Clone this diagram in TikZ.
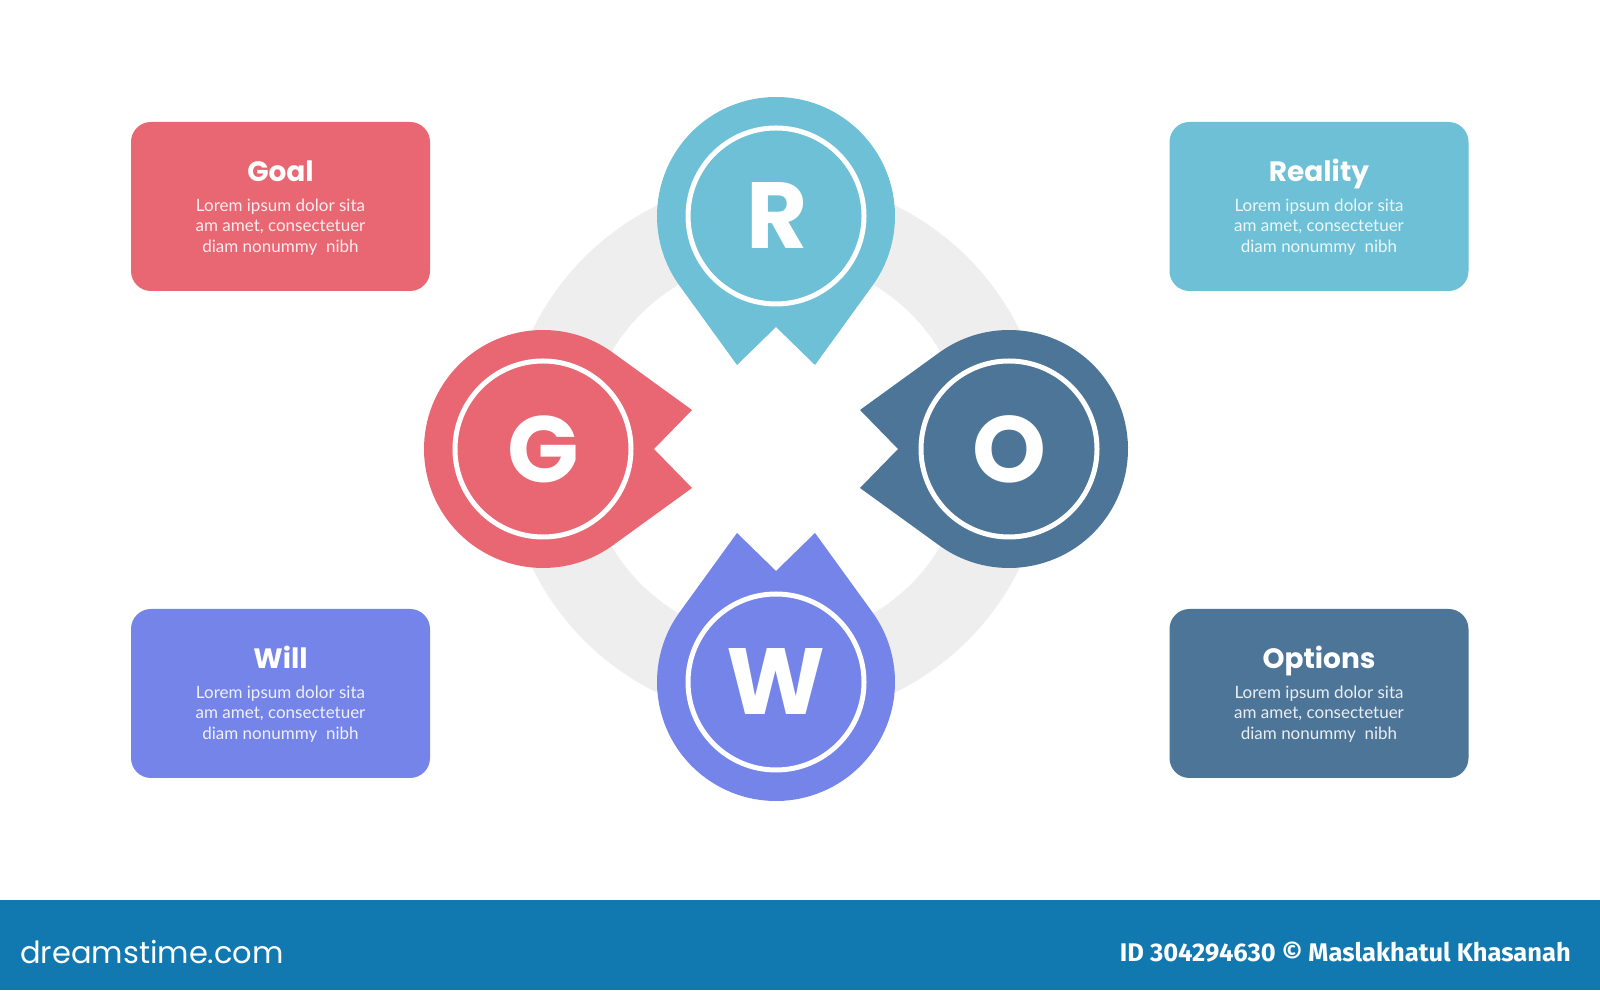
\documentclass[tikz,border=0pt]{standalone}
\usepackage{fontspec}
\setmainfont{Lato}
\newfontfamily\titlefont{Poppins}
\newfontfamily\footfont{Fira Sans}
\definecolor{gcol}{HTML}{E96673}
\definecolor{rcol}{HTML}{6DC0D5}
\definecolor{ocol}{HTML}{4D7598}
\definecolor{wcol}{HTML}{7584E9}
\definecolor{ringgray}{HTML}{EEEEEE}
\definecolor{footblue}{HTML}{1178B0}
\tikzset{
  drop/.pic={
    \fill[#1] (39,-149) -- (324.1:119) arc[start angle=-35.9,end angle=215.9,radius=119]
      -- (-39,-149) -- (0,-111) -- cycle;
    \draw[white, line width=5] (0,0) circle (88);
  },
  letter/.style={text=white, font=\titlefont\bfseries\fontsize{94}{94}\selectfont, inner sep=0},
  infobox/.style={rounded corners=20, minimum width=299, minimum height=169, inner sep=0},
  boxtitle/.style={text=white, anchor=base, font=\titlefont\bfseries\fontsize{28}{30}\selectfont, inner sep=0},
  boxbody/.style={text=white, text opacity=0.88, align=center, font=\fontsize{17}{20.5}\selectfont, inner sep=0}
}
\begin{document}
\begin{tikzpicture}[x=1pt,y=1pt]
\fill[white] (0,0) rectangle (1600,990);
\useasboundingbox (0,0) rectangle (1600,990);
% ring
\coordinate (ctr) at (776,541);
\draw[ringgray, line width=80] (ctr) circle (231);
% drops
\pic at (776,774) {drop=rcol};
\pic[rotate=90] at (543,541) {drop=gcol};
\pic[rotate=-90] at (1009,541) {drop=ocol};
\pic[rotate=180] at (776,308) {drop=wcol};
\node[letter] (R) at (777,774) {R};
\node[letter] (G) at (543,541) {G};
\node[letter] (O) at (1009,541) {O};
\node[letter] (W) at (776,308) {W};
% boxes
\node[infobox, fill=gcol] (goalbox) at (280.5,783.5) {};
\node[infobox, fill=rcol] (realbox) at (1319,783.5) {};
\node[infobox, fill=wcol] (willbox) at (280.5,296.5) {};
\node[infobox, fill=ocol] (optbox) at (1319,296.5) {};
\node[boxtitle] (goalt) at (280.5,808) {Goal};
\node[boxtitle] (realt) at (1319,808) {Reality};
\node[boxtitle] (willt) at (280.5,321) {Will};
\node[boxtitle] (optt) at (1319,321) {Options};
\node[boxbody] (goalb) at (280.5,763) {Lorem ipsum dolor sita\\am amet, consectetuer\\diam nonummy~ nibh};
\node[boxbody] (realb) at (1319,763) {Lorem ipsum dolor sita\\am amet, consectetuer\\diam nonummy~ nibh};
\node[boxbody] (willb) at (280.5,276) {Lorem ipsum dolor sita\\am amet, consectetuer\\diam nonummy~ nibh};
\node[boxbody] (optb) at (1319,276) {Lorem ipsum dolor sita\\am amet, consectetuer\\diam nonummy~ nibh};
% footer
\fill[footblue] (0,0) rectangle (1600,90);
\node[anchor=west, text=white, inner sep=0, font=\titlefont\fontsize{30.5}{32}\selectfont] (dt) at (20,38) {dreamstime.com};
\node[anchor=east, text=white, inner sep=0, font=\footfont\bfseries\fontsize{25.5}{28}\selectfont] (id) at (1571,38) {ID 304294630 © Maslakhatul Khasanah};
\end{tikzpicture}
\end{document}
